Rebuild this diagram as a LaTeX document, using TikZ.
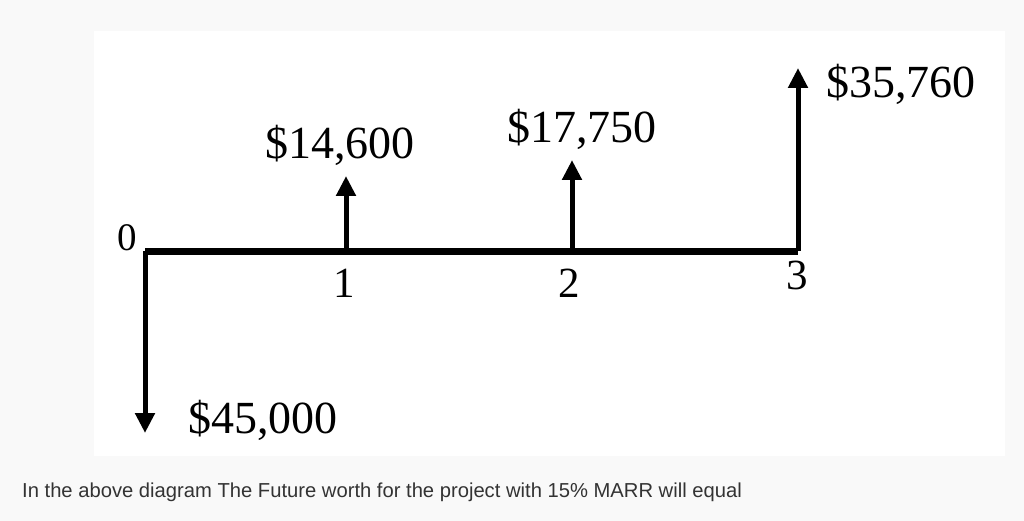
\documentclass[tikz,border=0pt]{standalone}
\usepackage{fontspec}
\setmainfont{Liberation Serif}
\newfontfamily\capfont{Liberation Sans}
\usepackage{tikz}
\usetikzlibrary{arrows.meta,positioning,calc}
\definecolor{pagegray}{HTML}{F9F9F9}
\definecolor{captext}{HTML}{333333}
\tikzset{
amount/.style = {anchor=base, inner sep=0pt, font=\fontsize{46}{46}\selectfont},
period/.style = {anchor=base, inner sep=0pt, font=\fontsize{43}{43}\selectfont},
axis/.style = {line width=7pt},
flow/.style = {->, line width=5pt},
tmp/.style  = {coordinate}
}

\begin{document}
\begin{tikzpicture}[x=1pt, y=-1pt, >={Triangle[length=20pt,width=19pt]}]
					\fill[pagegray] (0,0) rectangle (1024,521);
					\useasboundingbox (0,0) rectangle (1024,521);
					\fill[white] (94,31) rectangle (1005,456);
					% time points on the axis
					\node[tmp] (t0) at (145,251) {};
					\node[tmp] (t1) at (346,251) {};
					\node[tmp] (t2) at (572,251) {};
					\node[tmp] (t3) at (798,251) {};
					% arrow ends
					\node[tmp] (c0) at (145,433) {};
					\node[tmp] (c1) at (346,176) {};
					\node[tmp] (c2) at (572,160) {};
					\node[tmp] (c3) at (798,68) {};
					\draw[axis] (t0) -- (t3);
					\draw[flow] (t0) -- (c0);
					\draw[flow] (t1) -- (c1);
					\draw[flow] (t2) -- (c2);
					\draw[flow] (t3) -- (c3);
					\node[period, font=\fontsize{39}{39}\selectfont] (p0) at (127,250) {0};
					\node[period] (p1) at (344,297) {1};
					\node[period] (p2) at (569,297) {2};
					\node[period] (p3) at (797,289) {3};
					\node[amount] (a0) at (263,433) {\$45,000};
					\node[amount] (a1) at (340,159) {\$14,600};
					\node[amount] (a2) at (582,143) {\$17,750};
					\node[amount] (a3) at (901,98) {\$35,760};
					\node[anchor=base west, inner sep=0pt, text=captext, font=\capfont\fontsize{20.2}{20.2}\selectfont] (question) at (22,497) {In the above diagram The Future worth for the project with 15\% MARR will equal};
				\end{tikzpicture}
\end{document}
